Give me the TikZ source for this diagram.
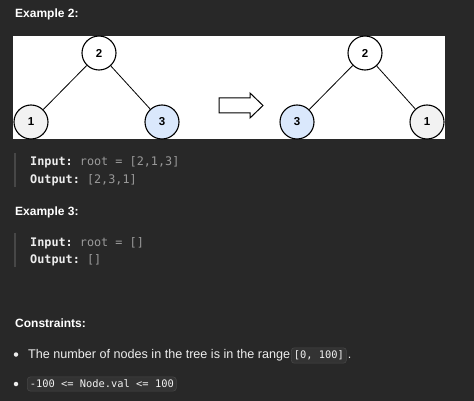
\documentclass[tikz,border=0pt]{standalone}
\usepackage{fontspec}
\setmainfont{Liberation Sans}
\setmonofont{DejaVu Sans Mono}
\definecolor{bg}{HTML}{282828}
\definecolor{codebg}{HTML}{333333}
\definecolor{codeborder}{HTML}{464646}
\definecolor{barc}{HTML}{474747}
\definecolor{valc}{HTML}{9A9A9A}
\definecolor{txt}{HTML}{EDEDED}
\definecolor{nodegray}{HTML}{F2F2F2}
\definecolor{nodeblue}{HTML}{DAE8FC}
\tikzset{
  tnode/.style={circle, draw=black, line width=1.1pt, minimum size=34pt, inner sep=0pt, font=\fontsize{11.5}{13}\selectfont\bfseries},
  heading/.style={anchor=base west, text=white, font=\fontsize{12}{14}\selectfont\bfseries, inner sep=0pt},
  codeline/.style={anchor=base west, inner sep=0pt, font=\fontsize{11.8}{14}\ttfamily},
  bodytext/.style={anchor=base west, inner sep=0pt, text=txt, font=\fontsize{12.6}{14}\selectfont},
  codebox/.style={fill=codebg, draw=codeborder, line width=0.6pt, rounded corners=3pt, inner xsep=2.5pt, inner ysep=3pt, text=txt!80, font=\fontsize{10.4}{12}\ttfamily},
  edge/.style={line width=0.8pt, draw=black},
  qbar/.style={line width=1.2pt, draw=barc},
  bullet/.style={circle, fill=txt, inner sep=0pt, minimum size=4.5pt}
}
\begin{document}
\begin{tikzpicture}[x=1pt,y=-1pt]
\fill[bg] (0,0) rectangle (474,401);
\useasboundingbox (0,0) rectangle (474,401);
% heading
\node[heading] (ex2) at (15,18) {Example 2:};
% panel
\fill[white] (13,36) rectangle (445,139);
% left tree
\node[tnode, fill=white] (l2) at (99,53) {2};
\node[tnode, fill=nodegray] (l1) at (31,122) {1};
\node[tnode, fill=nodeblue] (l3) at (162,122) {3};
\draw[edge] (l2) -- (l1);
\draw[edge] (l2) -- (l3);
% arrow
\draw[line width=1pt, black, fill=white]
  (219,98) -- (250,98) -- (250,93) -- (263,105.5) -- (250,118) -- (250,113) -- (219,113) -- cycle;
% right tree
\node[tnode, fill=white] (r2) at (365,53) {2};
\node[tnode, fill=nodeblue] (r3) at (297,122) {3};
\node[tnode, fill=nodegray] (r1) at (427,122) {1};
\draw[edge] (r2) -- (r3);
\draw[edge] (r2) -- (r1);
% example 2 io
\draw[qbar] (15,153) -- (15,187);
\node[codeline] (in2) at (30,166) {\textcolor{txt}{\bfseries Input:} \textcolor{valc}{root = [2,1,3]}};
\node[codeline] (out2) at (30,183) {\textcolor{txt}{\bfseries Output:} \textcolor{valc}{[2,3,1]}};
% example 3
\node[heading] (ex3) at (15,215) {Example 3:};
\draw[qbar] (15,233) -- (15,267);
\node[codeline] (in3) at (30,246) {\textcolor{txt}{\bfseries Input:} \textcolor{valc}{root = []}};
\node[codeline] (out3) at (30,263) {\textcolor{txt}{\bfseries Output:} \textcolor{valc}{[]}};
% constraints
\node[heading] (cons) at (15,327) {Constraints:};
\node[bullet] (b1) at (16,354.5) {};
\node[bodytext] (t1) at (28,358.5) {The number of nodes in the tree is in the range};
\node[codebox, anchor=west] (c1) at (291,355.5) {[0, 100]};
\node[bodytext, xshift=1pt] (dot) at (c1.east |- t1.base) {.};
\node[bullet] (b2) at (16,384) {};
\node[codebox, anchor=west] (c2) at (27,384) {-100 <= Node.val <= 100};
\end{tikzpicture}
\end{document}
